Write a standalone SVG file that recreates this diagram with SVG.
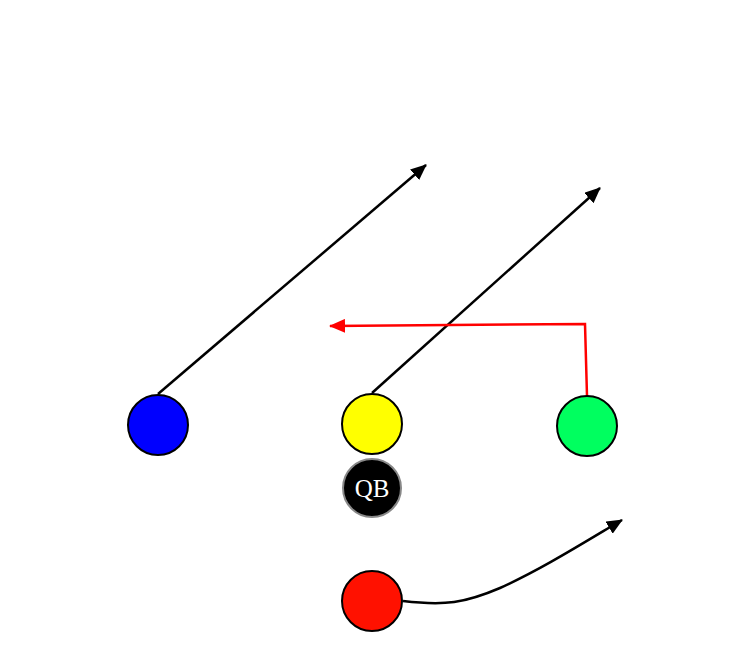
<svg xmlns="http://www.w3.org/2000/svg" width="750" height="655" viewBox="0 0 750 655">
<style>
.p{stroke:#000;stroke-width:2}
.c{fill:none;stroke-width:2.5}
.k{stroke:#000}
.r{stroke:#ff0000}
.t{font-family:"Liberation Serif",serif;font-size:25px;fill:#fff}
</style>
<defs>
<marker id="ak" markerUnits="userSpaceOnUse" markerWidth="16" markerHeight="14" refX="15" refY="7" orient="auto"><path d="M0,0 L16,7 L0,14 Z" fill="#000"/></marker>
<marker id="ar" markerUnits="userSpaceOnUse" markerWidth="16" markerHeight="14" refX="15" refY="7" orient="auto"><path d="M0,0 L16,7 L0,14 Z" fill="#ff0000"/></marker>
</defs>
<rect width="750" height="655" fill="#fff"/>
<g id="connectors">
<path class="c k" d="M158,394 L426,165" marker-end="url(#ak)"/>
<path class="c k" d="M372,393 L600,188" marker-end="url(#ak)"/>
<path class="c r" d="M587,396 L585,324 L330,326" marker-end="url(#ar)"/>
<path class="c k" d="M403,601 C445,606 465,603 500,588 C540,570 580,545 622,520" marker-end="url(#ak)"/>
</g>
<g id="blue"><circle class="p" cx="158" cy="425" r="30" fill="#0000ff"/></g>
<g id="yellow"><circle class="p" cx="372" cy="424" r="30" fill="#ffff00"/></g>
<g id="green"><circle class="p" cx="587" cy="426" r="30" fill="#00ff5f"/></g>
<g id="qb"><circle cx="372" cy="488" r="29" fill="#000" stroke="#888" stroke-width="2"/><text class="t" x="372" y="497" text-anchor="middle">QB</text></g>
<g id="red"><circle class="p" cx="372" cy="601" r="30" fill="#ff1100"/></g>
</svg>
